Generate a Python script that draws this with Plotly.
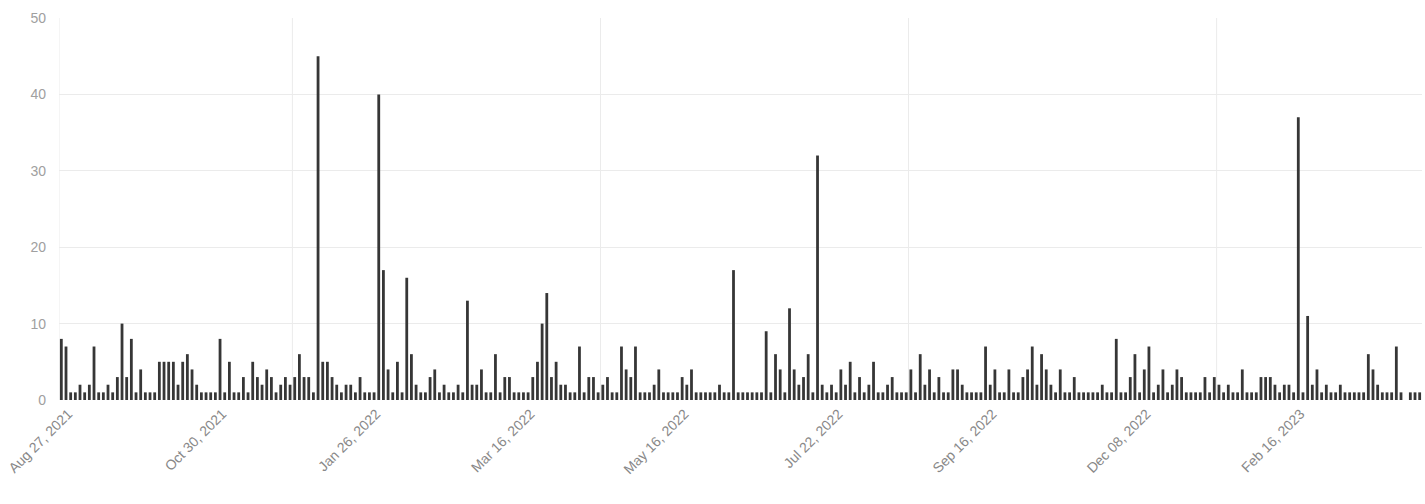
import plotly.graph_objects as go

# Daily counts, one bar per category
counts = [
    8, 7, 1, 1, 2, 1, 2, 7, 1, 1, 2, 1, 3, 10, 3, 8, 1, 4, 1, 1, 1, 5, 5, 5,
    5, 2, 5, 6, 4, 2, 1, 1, 1, 1, 8, 1, 5, 1, 1, 3, 1, 5, 3, 2, 4, 3, 1, 2,
    3, 2, 3, 6, 3, 3, 1, 45, 5, 5, 3, 2, 1, 2, 2, 1, 3, 1, 1, 1, 40, 17, 4, 1,
    5, 1, 16, 6, 2, 1, 1, 3, 4, 1, 2, 1, 1, 2, 1, 13, 2, 2, 4, 1, 1, 6, 1, 3,
    3, 1, 1, 1, 1, 3, 5, 10, 14, 3, 5, 2, 2, 1, 1, 7, 1, 3, 3, 1, 2, 3, 1, 1,
    7, 4, 3, 7, 1, 1, 1, 2, 4, 1, 1, 1, 1, 3, 2, 4, 1, 1, 1, 1, 1, 2, 1, 1,
    17, 1, 1, 1, 1, 1, 1, 9, 1, 6, 4, 1, 12, 4, 2, 3, 6, 1, 32, 2, 1, 2, 1, 4,
    2, 5, 1, 3, 1, 2, 5, 1, 1, 2, 3, 1, 1, 1, 4, 1, 6, 2, 4, 1, 3, 1, 1, 4,
    4, 2, 1, 1, 1, 1, 7, 2, 4, 1, 1, 4, 1, 1, 3, 4, 7, 2, 6, 4, 2, 1, 4, 1,
    1, 3, 1, 1, 1, 1, 1, 2, 1, 1, 8, 1, 1, 3, 6, 1, 4, 7, 1, 2, 4, 1, 2, 4,
    3, 1, 1, 1, 1, 3, 1, 3, 2, 1, 2, 1, 1, 4, 1, 1, 1, 3, 3, 3, 2, 1, 2, 2,
    1, 37, 1, 11, 2, 4, 1, 2, 1, 1, 2, 1, 1, 1, 1, 1, 6, 4, 2, 1, 1, 1, 7, 1,
    0, 1, 1, 1,
]
positions = list(range(len(counts)))

# Labelled categories on the x axis
tick_positions = [0, 33, 66, 99, 132, 165, 198, 231, 264]
tick_labels = [
    "Aug 27, 2021", "Oct 30, 2021", "Jan 26, 2022", "Mar 16, 2022",
    "May 16, 2022", "Jul 22, 2022", "Sep 16, 2022", "Dec 08, 2022",
    "Feb 16, 2023",
]
vgrid_positions = [-0.5, 49.5, 115.5, 181.5, 247.5]

fig = go.Figure(
    go.Bar(
        x=positions,
        y=counts,
        marker=dict(color="#363636", line=dict(width=0)),
        hoverinfo="x+y",
    )
)

for gx in vgrid_positions:
    fig.add_shape(
        type="line", xref="x", yref="paper", x0=gx, x1=gx, y0=0, y1=1,
        line=dict(color="#ebebeb", width=1), layer="below",
    )

fig.update_layout(
    width=1425,
    height=504,
    margin=dict(l=59, r=3, t=18, b=104),
    paper_bgcolor="white",
    plot_bgcolor="white",
    bargap=0.4,
    showlegend=False,
    font=dict(family="Liberation Sans, Arial, sans-serif", color="#999999", size=13),
    xaxis=dict(
        range=[-0.5, len(counts) - 0.5],
        tickmode="array",
        tickvals=tick_positions,
        ticktext=tick_labels,
        tickangle=-45,
        showgrid=False,
        zeroline=False,
        showline=False,
        ticks="",
        ticklabelshift=7,
        ticklabelstandoff=2,
        tickfont=dict(size=14, color="#888888"),
    ),
    yaxis=dict(
        range=[0, 50],
        dtick=10,
        showgrid=True,
        gridcolor="#ebebeb",
        gridwidth=1,
        zeroline=False,
        showline=False,
        ticks="",
        ticklabelstandoff=12,
        tickfont=dict(size=14, color="#a0a0a0"),
    ),
)

fig.write_html(
    "out.html",
    config={"displayModeBar": False},
    post_script="document.body.style.margin='0';document.body.style.overflow='hidden';",
)
